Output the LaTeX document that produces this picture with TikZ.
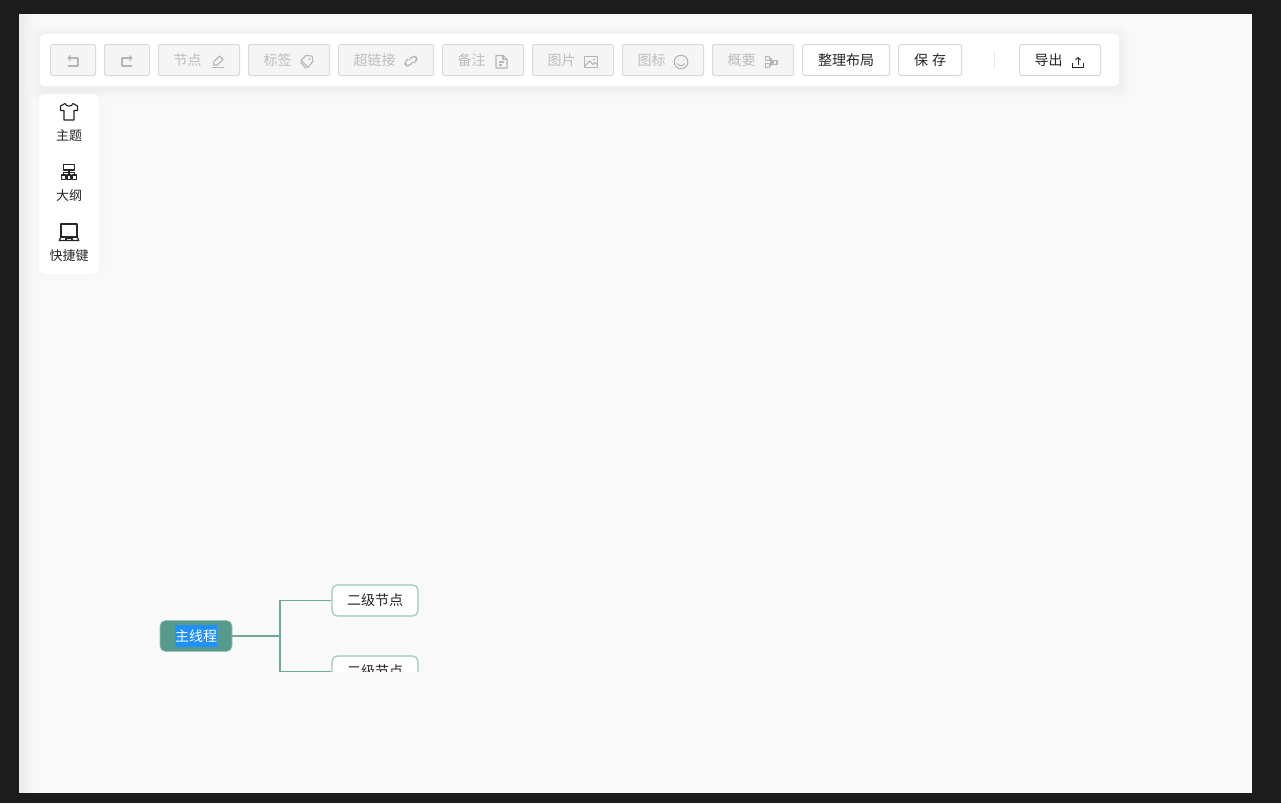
\documentclass[tikz,border=0pt]{standalone}
\usepackage{fontspec}
\setmainfont{Noto Sans CJK SC}
\usetikzlibrary{calc}
\definecolor{outerbg}{HTML}{1C1C1C}
\definecolor{pagebg}{HTML}{F9F9F9}
\definecolor{pageedge}{HTML}{EBEBEB}
\definecolor{disfill}{HTML}{F5F5F5}
\definecolor{disline}{HTML}{D9D9D9}
\definecolor{distext}{HTML}{BDBDBD}
\definecolor{disicon}{HTML}{B5B5B5}
\definecolor{enline}{HTML}{D9D9D9}
\definecolor{entext}{HTML}{262626}
\definecolor{teal}{HTML}{559A8B}
\definecolor{tealline}{HTML}{6FA89B}
\definecolor{tealedge}{HTML}{9CC5BB}
\definecolor{selblue}{HTML}{1E90FF}
\newcommand{\icongap}{\rule{17.25pt}{0pt}}
\newcommand{\lowtext}[1]{\raisebox{-0.6pt}{#1}\icongap}
\tikzset{
  x=0.75pt,y=-0.75pt,
  btn/.style={draw=enline,line width=0.75pt,rounded corners=1.5pt,fill=white,text=entext,font=\fontsize{10.5pt}{12pt}\selectfont,minimum height=23.25pt,inner sep=0pt,anchor=center},
  disbtn/.style={btn,draw=disline,fill=disfill,text=distext},
  disicn/.style={draw=disicon,line width=0.8pt,line join=round},
  enicn/.style={draw=entext,line width=0.75pt,line join=round},
  sideicn/.style={draw=entext,line width=0.85pt,line join=round},
  sidelabel/.style={text=entext,font=\fontsize{9.75pt}{11pt}\selectfont,inner sep=0pt},
  second/.style={draw=tealedge,line width=0.85pt,rounded corners=4pt,fill=white,text=entext,font=\fontsize{10.5pt}{12pt}\selectfont,minimum width=64.5pt,minimum height=23.25pt,inner sep=0pt},
  conn/.style={draw=tealline,line width=0.8pt},
}
\begin{document}
\begin{tikzpicture}
\useasboundingbox (0,0) rectangle (1281,803);
\fill[outerbg] (0,0) rectangle (1281,803);
\fill[pagebg] (19,14) rectangle (1252,793);
\foreach \i in {0,...,14}{
  \pgfmathsetmacro{\mixv}{100-\i*100/15}
  \fill[pageedge!\mixv!pagebg] ({19+\i},14) rectangle ({20+\i},793);
}
% toolbar shadow + bar
\foreach \d in {10,8,6,4,2}{
  \fill[black,opacity=0.006,rounded corners=6pt] ({40-\d},{34-\d+2}) rectangle ({1119+\d},{86+\d+2});
}
\fill[white,rounded corners=3pt] (40,34) rectangle (1119,86);
% sidebar
\foreach \d in {6,4,2}{
  \fill[black,opacity=0.005,rounded corners=6pt] ({39-\d},{94-\d}) rectangle ({99+\d},{274+\d});
}
\fill[white,rounded corners=4.5pt] (39,94) rectangle (99,274);
% buttons
\node[disbtn,minimum width=33.75pt] (undo) at (73,60) {};
\node[disbtn,minimum width=33.75pt] (redo) at (127,60) {};
\node[disbtn,minimum width=60.75pt] (jiedian) at (199,60) {\lowtext{节点}};
\node[disbtn,minimum width=60.75pt] (biaoqian) at (289,60) {\lowtext{标签}};
\node[disbtn,minimum width=71.25pt] (chaolian) at (386,60) {\lowtext{超链接}};
\node[disbtn,minimum width=60.75pt] (beizhu) at (483,60) {\lowtext{备注}};
\node[disbtn,minimum width=60.75pt] (tupian) at (573,60) {\lowtext{图片}};
\node[disbtn,minimum width=60.75pt] (tubiao) at (663,60) {\lowtext{图标}};
\node[disbtn,minimum width=60.75pt] (gaiyao) at (753,60) {\lowtext{概要}};
\node[btn,minimum width=65.25pt] (zhengli) at (846,60) {整理布局};
\node[btn,minimum width=47.25pt] (baocun) at (930,60) {保\hspace{3pt}存};
\node[btn,minimum width=60.75pt] (daochu) at (1060,60) {\lowtext{导出}};
\draw[draw=black!8,line width=0.75pt] (994.5,51) -- (994.5,69);
% undo / redo icons
\draw[disicn,line width=1pt] (68,58) -- (78,58) -- (78,66) -- (68,66);
\draw[disicn,line width=1pt] (70.5,55.5) -- (68,58) -- (70.5,60.5);
\draw[disicn,line width=1pt] (132,58) -- (122,58) -- (122,66) -- (132,66);
\draw[disicn,line width=1pt] (129.5,55.5) -- (132,58) -- (129.5,60.5);
% pencil
\draw[disicn] (212,67.5) -- (224,67.5);
\draw[disicn] (213.5,65) -- (214,61.5) -- (219.5,56) -- (223,59.5) -- (217,65) -- cycle;
% tag
\draw[disicn] (301,60) -- (306,55.5) -- (312,56) -- (313,61) -- (308,67.5) -- cycle;
\draw[disicn] (300.5,62) -- (306,68.5);
\fill[disicon] (309.5,59) circle (1);
% link
\draw[disicn,line width=1pt,rounded corners=2pt] (409,60) -- (413,56) -- (416.5,57) -- (417,60) -- (414,63);
\draw[disicn,line width=1pt,rounded corners=2pt] (413,62) -- (409,66) -- (405.5,65.5) -- (405,62) -- (408,59);
% doc
\draw[disicn] (496,55.5) -- (503,55.5) -- (507,59.5) -- (507,68) -- (496,68) -- cycle;
\draw[disicn] (503,55.5) -- (503,59.5) -- (507,59.5);
\draw[disicn] (498.5,62) -- (504,62) (498.5,65) -- (502,65);
% image
\draw[disicn] (584.5,56.5) rectangle (597.5,67.5);
\draw[disicn] (585,66) -- (589.5,61) -- (593,64.5) -- (595,62.5) -- (597.5,65);
\fill[disicon] (594,59.5) circle (1);
% smiley
\draw[disicn] (681,62) circle (6.8);
\draw[disicn] (677.5,63.5) .. controls (679,66.5) and (683,66.5) .. (684.5,63.5);
\fill[disicon] (678.5,60) circle (0.7) (683.5,60) circle (0.7);
% summary
\draw[disicn] (765.5,56.5) rectangle (769.5,60.5);
\draw[disicn] (765.5,63.5) rectangle (769.5,67.5);
\draw[disicn] (773,60.5) rectangle (777,64.5);
\draw[disicn] (769.5,58.5) -- (771,58.5) -- (771,65.5) -- (769.5,65.5) (771,62.5) -- (773,62.5);
% upload
\draw[enicn] (1072.5,63) -- (1072.5,67.5) -- (1083.5,67.5) -- (1083.5,63);
\draw[enicn] (1078,64.5) -- (1078,57.5);
\draw[enicn] (1075.5,60) -- (1078,57.5) -- (1080.5,60);
% sidebar icons and labels
\draw[sideicn] (65,103.5) -- (60.5,106) -- (60.5,110.5) -- (64,110.5) -- (64,120) -- (74,120) -- (74,110.5) -- (77.5,110.5) -- (77.5,106) -- (73,103.5) .. controls (72,107) and (66,107) .. (65,103.5) -- cycle;
\node[sidelabel] (zhuti) at (69,136) {主题};
\draw[sideicn] (63.5,164.5) rectangle (74.5,170);
\draw[sideicn] (69,170) -- (69,174.5) (63.5,174.5) -- (63.5,172.5) -- (74.5,172.5) -- (74.5,174.5);
\draw[sideicn] (61.5,175) rectangle (65.5,179.5);
\draw[sideicn] (67,175) rectangle (71,179.5);
\draw[sideicn] (72.5,175) rectangle (76.5,179.5);
\node[sidelabel] (dagang) at (69,196) {大纲};
\draw[sideicn] (61,224) rectangle (77,237);
\draw[sideicn] (61,237) -- (59,240.5) -- (79,240.5) -- (77,237);
\draw[sideicn] (66,240.5) -- (66,238.5) -- (72,238.5) -- (72,240.5);
\node[sidelabel] (kuaijie) at (69,256) {快捷键};
% mind map
\node[fill=teal,draw=tealedge,line width=0.4pt,rounded corners=4pt,minimum width=54pt,minimum height=23.25pt,inner sep=0pt] (root) at (196,636) {};
\node[fill=selblue,text=white,font=\fontsize{10.5pt}{12pt}\selectfont,minimum width=31.5pt,minimum height=16pt,inner sep=0pt] (rootlabel) at (196,636) {主线程};
\node[second] (nodeA) at (375,600.5) {二级节点};
\node[second] (nodeB) at (375,671.5) {二级节点};
\coordinate (trunk) at (280,636);
\draw[conn] (root.east) -- (trunk);
\draw[conn] (trunk) |- (nodeA.west);
\draw[conn] (trunk) |- (nodeB.west);
% the canvas is cut off just below the second branch
\fill[pagebg] (270,672.2) rectangle (430,700);
\end{tikzpicture}
\end{document}
